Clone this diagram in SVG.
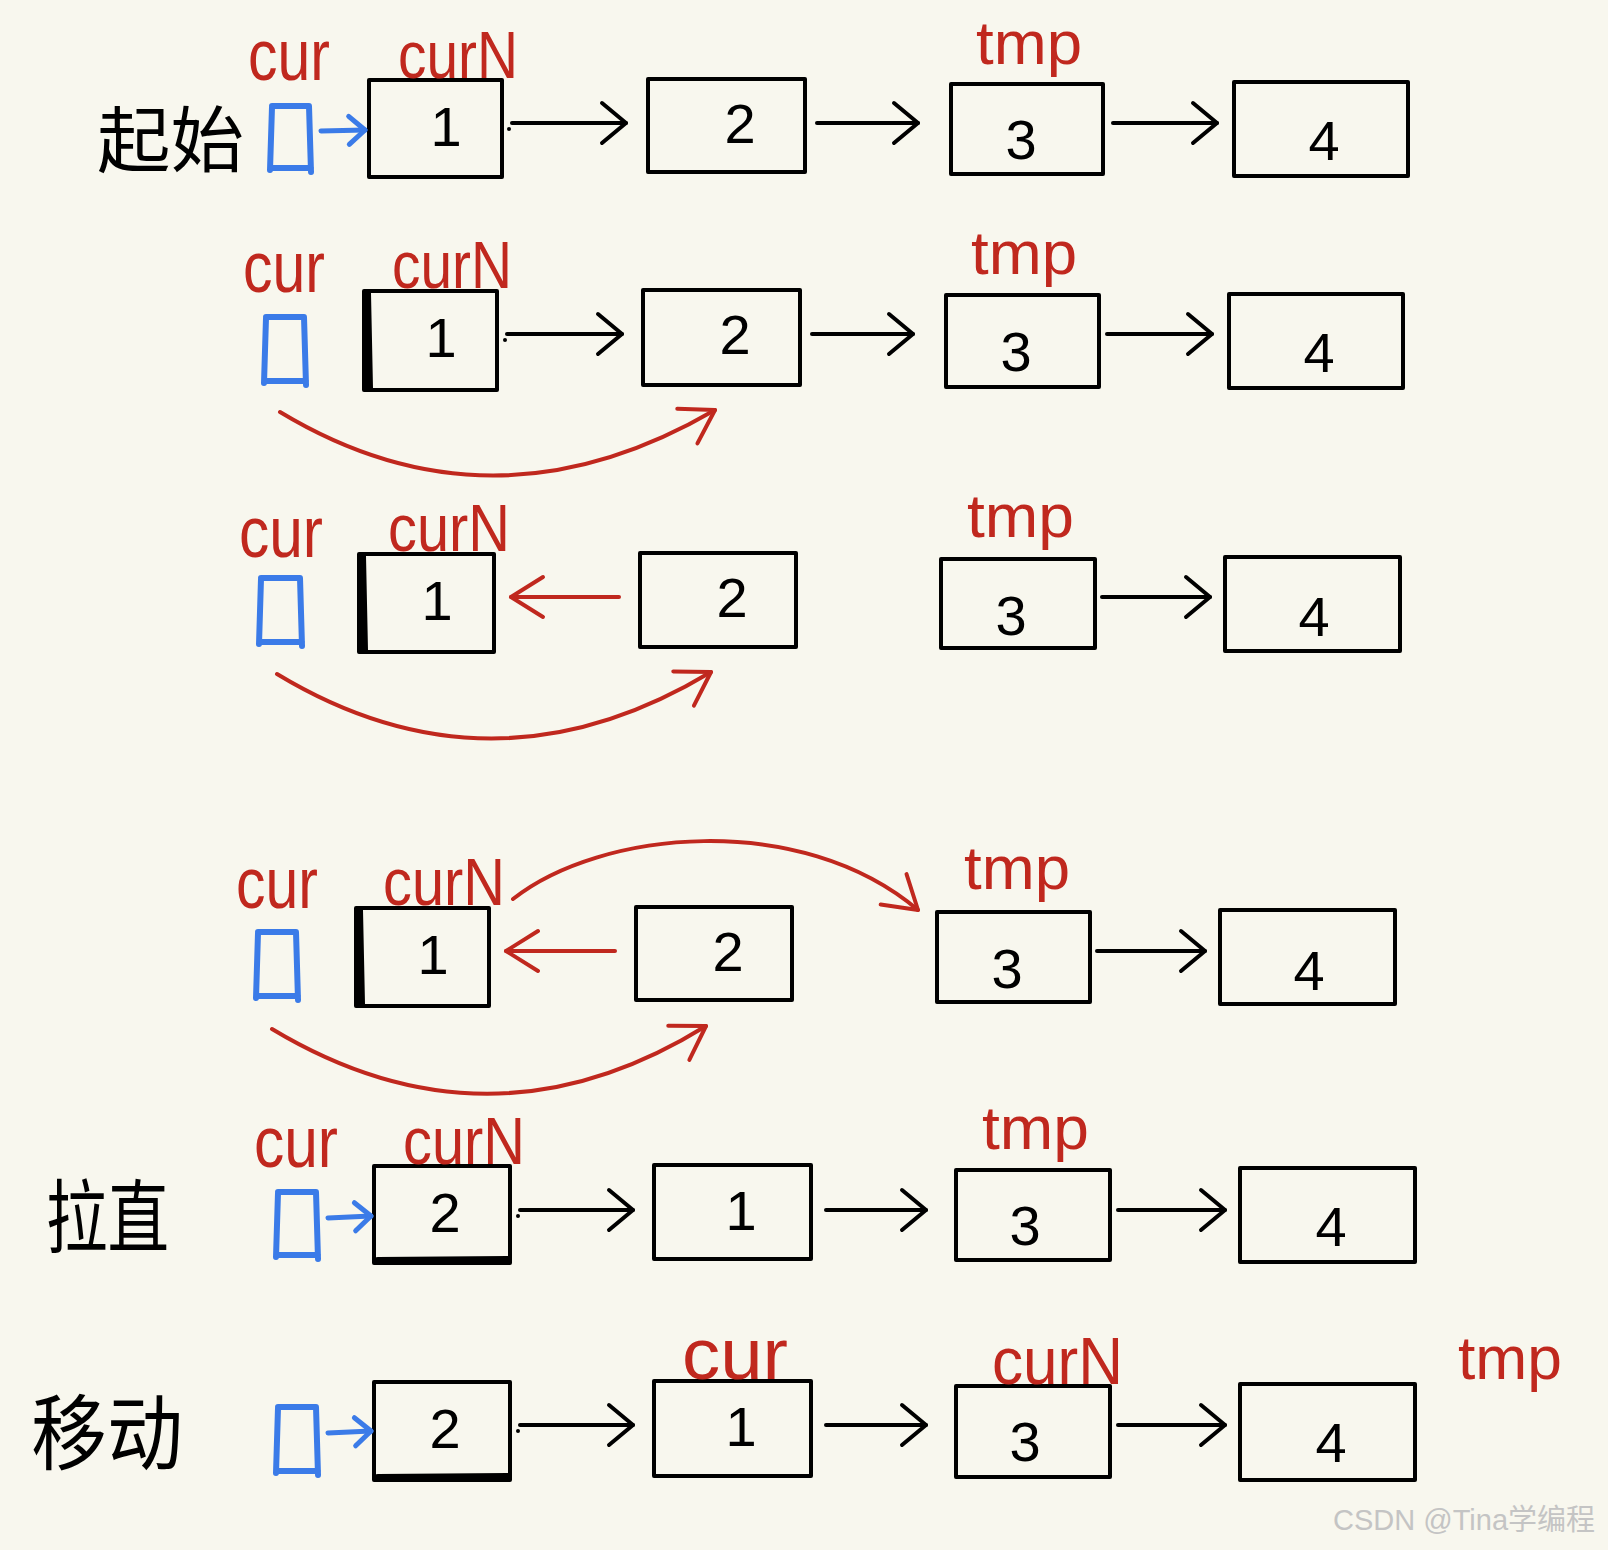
<svg xmlns="http://www.w3.org/2000/svg" width="1608" height="1550" viewBox="0 0 1608 1550">
<style>
.bg{fill:#f8f7ee}
.box{fill:none;stroke:#000;stroke-width:4;stroke-linejoin:round}
.thick{fill:none;stroke:#000;stroke-width:8;stroke-linecap:round}
.dig{font-family:"Liberation Sans",sans-serif;font-size:56px;fill:#000;text-anchor:middle}
.lbl{font-family:"Liberation Sans",sans-serif;fill:#c0281e}
.cur{font-size:72px}
.curn{font-size:66px}
.tmp{font-size:62px}
.zh{font-family:"Noto Sans CJK SC","Liberation Sans",sans-serif;fill:#000}
.sq{fill:none;stroke:#3b7be8;stroke-width:6;stroke-linecap:round;stroke-linejoin:round}
.ab{fill:none;stroke:#000;stroke-width:4;stroke-linecap:round;marker-end:url(#mb)}
.au{fill:none;stroke:#3b7be8;stroke-width:5;stroke-linecap:round;marker-end:url(#mu)}
.ar{fill:none;stroke:#c0281e;stroke-width:4;stroke-linecap:round;marker-end:url(#mr)}
.dot{fill:#000}
.wm{font-family:"Liberation Sans","Noto Sans CJK SC",sans-serif;font-size:29px;fill:#c4c4c4}
</style>
<defs>
<marker id="mb" markerUnits="userSpaceOnUse" viewBox="-30 -25 34 50" refX="0" refY="0" markerWidth="34" markerHeight="50" orient="auto" overflow="visible"><path d="M-24,-20 L0,0 L-24,20" fill="none" stroke="#000" stroke-width="4" stroke-linecap="round" stroke-linejoin="round"/></marker>
<marker id="mu" markerUnits="userSpaceOnUse" viewBox="-20 -16 24 32" refX="0" refY="0" markerWidth="24" markerHeight="32" orient="auto" overflow="visible"><path d="M-16,-14 L0,0 L-16,14" fill="none" stroke="#3b7be8" stroke-width="5" stroke-linecap="round" stroke-linejoin="round"/></marker>
<marker id="mr" markerUnits="userSpaceOnUse" viewBox="-36 -25 40 50" refX="0" refY="0" markerWidth="40" markerHeight="50" orient="auto" overflow="visible"><path d="M-32,-20 L0,0 L-32,20" fill="none" stroke="#c0281e" stroke-width="4" stroke-linecap="round" stroke-linejoin="round"/></marker>
</defs>
<rect class="bg" x="0" y="0" width="1608" height="1550"/>

<!-- Row 1 -->
<g id="r1-title"><text class="zh" x="97" y="166" font-size="72" textLength="147" lengthAdjust="spacingAndGlyphs">起始</text></g>
<g id="r1-cur"><text class="lbl cur" x="248" y="80" textLength="82" lengthAdjust="spacingAndGlyphs">cur</text><path class="sq" d="M272,107 L270,170 M272,106 L309,106 L311,172 M272,168 L311,168"/></g>
<g id="r1-n1"><rect class="box" x="369" y="80" width="133" height="97"/><text class="dig" x="446" y="146">1</text><text class="lbl curn" x="398" y="78" textLength="120" lengthAdjust="spacingAndGlyphs">curN</text></g>
<g id="r1-n2"><rect class="box" x="648" y="79" width="157" height="93"/><text class="dig" x="740" y="143">2</text></g>
<g id="r1-n3"><rect class="box" x="951" y="84" width="152" height="90"/><text class="dig" x="1021" y="159">3</text><text class="lbl tmp" x="976" y="64" textLength="106" lengthAdjust="spacingAndGlyphs">tmp</text></g>
<g id="r1-n4"><rect class="box" x="1234" y="82" width="174" height="94"/><text class="dig" x="1324" y="160">4</text></g>

<!-- Row 2 -->
<g id="r2-cur"><text class="lbl cur" x="243" y="292" textLength="82" lengthAdjust="spacingAndGlyphs">cur</text><path class="sq" d="M266,318 L264,383 M266,317 L304,317 L306,385 M266,381 L306,381"/></g>
<g id="r2-n1"><rect class="box" x="364" y="291" width="133" height="99"/><path class="thick" d="M367,293 L369,388"/><text class="dig" x="441" y="357">1</text><text class="lbl curn" x="392" y="288" textLength="120" lengthAdjust="spacingAndGlyphs">curN</text></g>
<g id="r2-n2"><rect class="box" x="643" y="290" width="157" height="95"/><text class="dig" x="735" y="354">2</text></g>
<g id="r2-n3"><rect class="box" x="946" y="295" width="153" height="92"/><text class="dig" x="1016" y="371">3</text><text class="lbl tmp" x="971" y="274" textLength="106" lengthAdjust="spacingAndGlyphs">tmp</text></g>
<g id="r2-n4"><rect class="box" x="1229" y="294" width="174" height="94"/><text class="dig" x="1319" y="372">4</text></g>

<!-- Row 3 -->
<g id="r3-cur"><text class="lbl cur" x="239" y="557" textLength="84" lengthAdjust="spacingAndGlyphs">cur</text><path class="sq" d="M261,579 L259,644 M261,578 L300,578 L302,646 M261,642 L302,642"/></g>
<g id="r3-n1"><rect class="box" x="359" y="554" width="135" height="98"/><path class="thick" d="M362,556 L364,650"/><text class="dig" x="437" y="620">1</text><text class="lbl curn" x="388" y="551" textLength="122" lengthAdjust="spacingAndGlyphs">curN</text></g>
<g id="r3-n2"><rect class="box" x="640" y="553" width="156" height="94"/><text class="dig" x="732" y="617">2</text></g>
<g id="r3-n3"><rect class="box" x="941" y="559" width="154" height="89"/><text class="dig" x="1011" y="635">3</text><text class="lbl tmp" x="967" y="537" textLength="107" lengthAdjust="spacingAndGlyphs">tmp</text></g>
<g id="r3-n4"><rect class="box" x="1225" y="557" width="175" height="94"/><text class="dig" x="1314" y="636">4</text></g>

<!-- Row 4 -->
<g id="r4-cur"><text class="lbl cur" x="236" y="908" textLength="82" lengthAdjust="spacingAndGlyphs">cur</text><path class="sq" d="M258,933 L256,998 M258,932 L296,932 L298,1000 M258,996 L298,996"/></g>
<g id="r4-n1"><rect class="box" x="356" y="908" width="133" height="98"/><path class="thick" d="M359,910 L361,1004"/><text class="dig" x="433" y="974">1</text><text class="lbl curn" x="383" y="905" textLength="122" lengthAdjust="spacingAndGlyphs">curN</text></g>
<g id="r4-n2"><rect class="box" x="636" y="907" width="156" height="93"/><text class="dig" x="728" y="971">2</text></g>
<g id="r4-n3"><rect class="box" x="937" y="912" width="153" height="90"/><text class="dig" x="1007" y="988">3</text><text class="lbl tmp" x="964" y="889" textLength="106" lengthAdjust="spacingAndGlyphs">tmp</text></g>
<g id="r4-n4"><rect class="box" x="1220" y="910" width="175" height="94"/><text class="dig" x="1309" y="990">4</text></g>

<!-- Row 5 -->
<g id="r5-title"><text class="zh" x="46" y="1246" font-size="80" textLength="123" lengthAdjust="spacingAndGlyphs">拉直</text></g>
<g id="r5-cur"><text class="lbl cur" x="254" y="1167" textLength="84" lengthAdjust="spacingAndGlyphs">cur</text><path class="sq" d="M278,1193 L276,1257 M278,1192 L316,1192 L318,1259 M278,1255 L318,1255"/></g>
<g id="r5-n1"><rect class="box" x="374" y="1166" width="136" height="97"/><path class="thick" d="M378,1261 L508,1260"/><text class="dig" x="445" y="1232">2</text><text class="lbl curn" x="403" y="1164" textLength="122" lengthAdjust="spacingAndGlyphs">curN</text></g>
<g id="r5-n2"><rect class="box" x="654" y="1165" width="157" height="94"/><text class="dig" x="741" y="1230">1</text></g>
<g id="r5-n3"><rect class="box" x="956" y="1170" width="154" height="90"/><text class="dig" x="1025" y="1245">3</text><text class="lbl tmp" x="982" y="1149" textLength="107" lengthAdjust="spacingAndGlyphs">tmp</text></g>
<g id="r5-n4"><rect class="box" x="1240" y="1168" width="175" height="94"/><text class="dig" x="1331" y="1246">4</text></g>

<!-- Row 6 -->
<g id="r6-title"><text class="zh" x="31" y="1463" font-size="82" textLength="152" lengthAdjust="spacingAndGlyphs">移动</text></g>
<g id="r6-head"><path class="sq" d="M278,1408 L276,1473 M278,1407 L316,1407 L318,1475 M278,1471 L318,1471"/></g>
<g id="r6-n1"><rect class="box" x="374" y="1382" width="136" height="98"/><path class="thick" d="M378,1478 L508,1477"/><text class="dig" x="445" y="1448">2</text></g>
<g id="r6-n2"><rect class="box" x="654" y="1381" width="157" height="95"/><text class="dig" x="741" y="1446">1</text><text class="lbl cur" x="682" y="1379" textLength="106" lengthAdjust="spacingAndGlyphs">cur</text></g>
<g id="r6-n3"><rect class="box" x="956" y="1386" width="154" height="91"/><text class="dig" x="1025" y="1461">3</text><text class="lbl curn" x="992" y="1384" textLength="131" lengthAdjust="spacingAndGlyphs">curN</text></g>
<g id="r6-n4"><rect class="box" x="1240" y="1384" width="175" height="96"/><text class="dig" x="1331" y="1462">4</text></g>
<g id="r6-tmp"><text class="lbl tmp" x="1458" y="1379" textLength="104" lengthAdjust="spacingAndGlyphs">tmp</text></g>

<!-- Connectors -->
<g id="connectors">
<path class="au" d="M321,131 L365,130"/>
<circle class="dot" cx="509" cy="129" r="2"/>
<path class="ab" d="M512,123 L626,123"/>
<path class="ab" d="M817,123 L918,123"/>
<path class="ab" d="M1113,123 L1217,123"/>

<circle class="dot" cx="505" cy="340" r="2"/>
<path class="ab" d="M507,334 L622,334"/>
<path class="ab" d="M812,334 L913,334"/>
<path class="ab" d="M1107,334 L1212,334"/>
<path class="ar" d="M280,412 Q492,540 715,410"/>

<path class="ar" d="M619,597 L511,597"/>
<path class="ab" d="M1102,597 L1210,597"/>
<path class="ar" d="M277,674 Q492,804 711,672"/>

<path class="ar" d="M615,951 L506,951"/>
<path class="ab" d="M1097,951 L1205,951"/>
<path class="ar" d="M513,899 C600,830 800,810 918,910"/>
<path class="ar" d="M272,1029 Q490,1160 706,1026"/>

<path class="au" d="M328,1218 L371,1216"/>
<circle class="dot" cx="518" cy="1216" r="2"/>
<path class="ab" d="M520,1210 L633,1210"/>
<path class="ab" d="M826,1210 L926,1210"/>
<path class="ab" d="M1118,1210 L1225,1210"/>

<path class="au" d="M328,1433 L371,1431"/>
<circle class="dot" cx="518" cy="1431" r="2"/>
<path class="ab" d="M520,1425 L633,1425"/>
<path class="ab" d="M826,1425 L926,1425"/>
<path class="ab" d="M1118,1425 L1225,1425"/>
</g>

<text class="wm" x="1333" y="1530">CSDN @Tina学编程</text>
</svg>
